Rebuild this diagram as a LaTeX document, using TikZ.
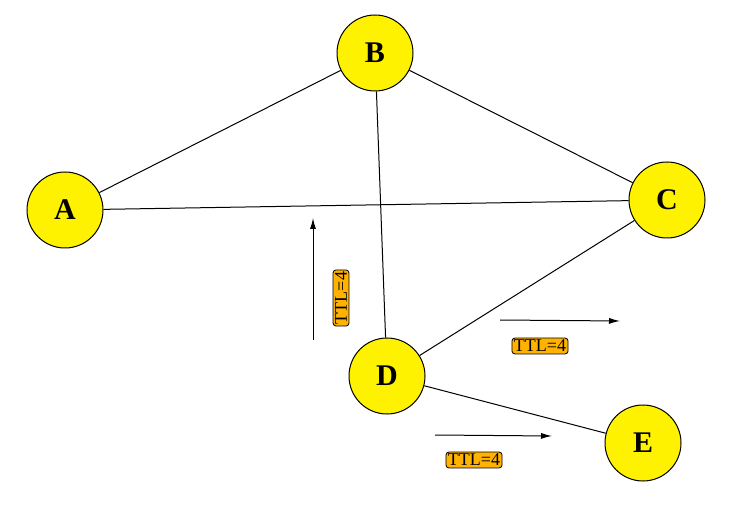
\documentclass[tikz,border=0pt]{standalone}
\usepackage{fontspec}
\setmainfont{Liberation Serif}
\usetikzlibrary{arrows.meta}
\begin{document}
\begin{tikzpicture}[x=1pt,y=-1pt,
 vtx/.style={circle,draw,line width=1pt,fill=yellow,minimum size=76pt,inner sep=0pt,font=\fontsize{30}{32}\selectfont\bfseries},
 ttl/.style={draw,line width=0.8pt,fill=orange!60!yellow,rounded corners=3pt,inner sep=2pt,font=\fontsize{18}{20}\selectfont},
 edge/.style={line width=1pt},
 msg/.style={line width=1pt,-{Latex[length=11pt,width=6pt]}}]
\useasboundingbox (0,0) rectangle (736,518);
\node[vtx] (A) at (65,210) {A};
\node[vtx] (B) at (375,53) {B};
\node[vtx] (C) at (667,200) {C};
\node[vtx] (D) at (387,376) {D};
\node[vtx] (E) at (643,443) {E};
\draw[edge] (A)--(B) (A)--(C) (B)--(C) (B)--(D) (C)--(D) (D)--(E);
\node[ttl,rotate=90] (t1) at (341,298) {TTL=4};
\node[ttl] (t2) at (540,346) {TTL=4};
\node[ttl] (t3) at (474,460) {TTL=4};
\coordinate (a1s) at (313,340); \coordinate (a1e) at (313,218);
\coordinate (a2s) at (500,320); \coordinate (a2e) at (620,321);
\coordinate (a3s) at (435,435); \coordinate (a3e) at (552,436);
\draw[msg] (a1s)--(a1e);
\draw[msg] (a2s)--(a2e);
\draw[msg] (a3s)--(a3e);
\end{tikzpicture}
\end{document}
